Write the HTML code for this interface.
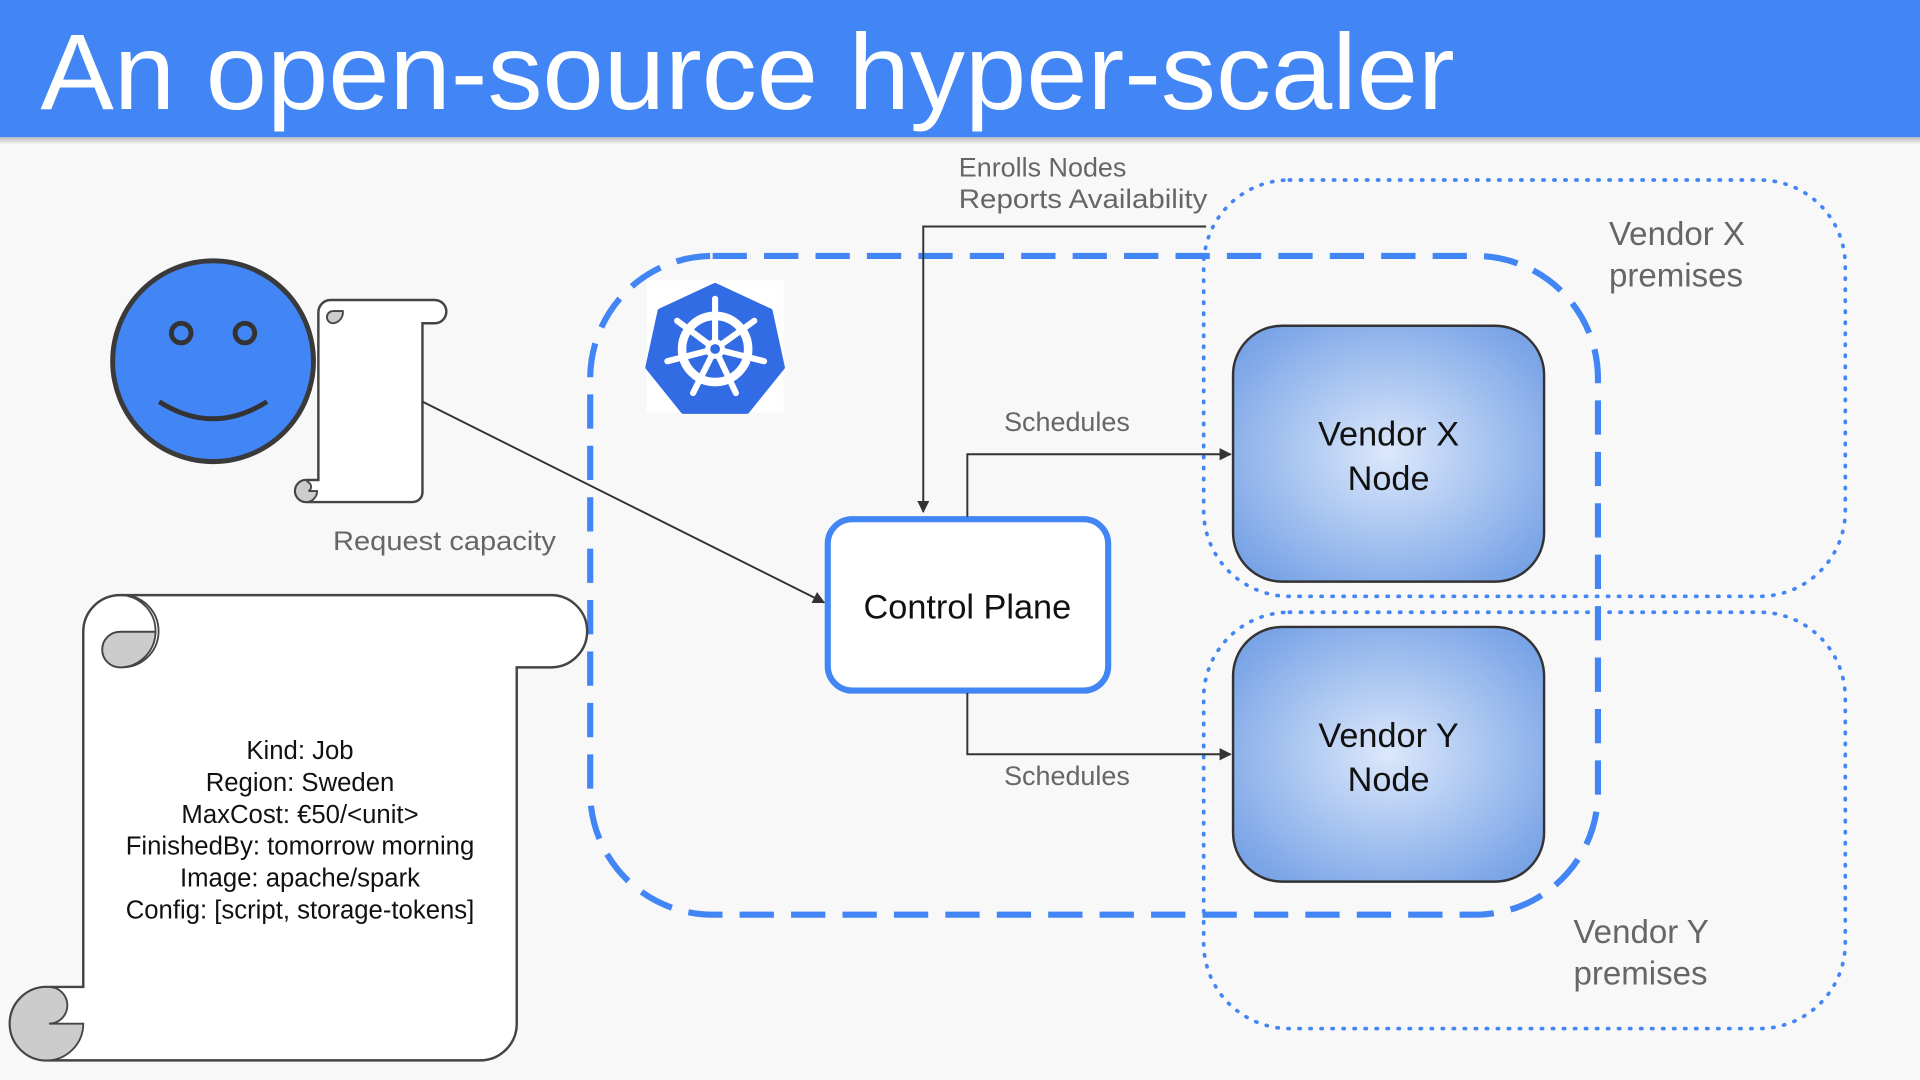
<!DOCTYPE html>
<html><head><meta charset="utf-8"><style>html,body{margin:0;padding:0;width:1920px;height:1080px;overflow:hidden;background:#f8f8f8}svg{display:block}text{font-family:"Liberation Sans",sans-serif}</style></head>
<body>
<svg width="1920" height="1080" viewBox="0 0 1568 882" xmlns="http://www.w3.org/2000/svg">
<defs>
<radialGradient id="g" cx="50%" cy="50%" r="62%"><stop offset="0" stop-color="#dce8fb"/><stop offset="1" stop-color="#78a3e6"/></radialGradient>
<linearGradient id="sh" x1="0" y1="0" x2="0" y2="1"><stop offset="0" stop-color="#000" stop-opacity="0.25"/><stop offset="1" stop-color="#000" stop-opacity="0"/></linearGradient>
<marker id="a" markerWidth="10" markerHeight="10" refX="9" refY="5" orient="auto" markerUnits="userSpaceOnUse"><path d="M0,0 L10,5 L0,10 Z" fill="#333"/></marker>
</defs>
<rect width="1568" height="882" fill="#f8f8f8"/>
<rect y="112" width="1568" height="6" fill="url(#sh)"/>
<rect width="1568" height="112" fill="#4285f4"/>
<text x="33" y="89" font-size="88" fill="#fff" textLength="1155" lengthAdjust="spacingAndGlyphs">An open-source hyper-scaler</text>

<rect x="983" y="147" width="524" height="340" rx="70" fill="none" stroke="#4285f4" stroke-width="3" stroke-dasharray="1 8" stroke-linecap="round"/>
<rect x="983" y="500" width="524" height="340" rx="70" fill="none" stroke="#4285f4" stroke-width="3" stroke-dasharray="1 8" stroke-linecap="round"/>
<rect x="482" y="209" width="823" height="538" rx="100" fill="none" stroke="#4285f4" stroke-width="5" stroke-dasharray="28 14"/>

<rect x="528" y="229" width="112" height="108" fill="#fff"/>
<polygon points="584,233 629,254 639,300 610,336 558,336 529,300 539,254" fill="#326ce5" stroke="#326ce5" stroke-width="4" stroke-linejoin="round"/>
<g stroke="#fff" fill="none" stroke-linecap="round">
<circle cx="584" cy="285" r="27" stroke-width="7"/>
<g stroke-width="5">
<line x1="584" y1="285" x2="584" y2="244"/>
<line x1="584" y1="285" x2="616" y2="262"/>
<line x1="584" y1="285" x2="624" y2="295"/>
<line x1="584" y1="285" x2="601" y2="321"/>
<line x1="584" y1="285" x2="566" y2="321"/>
<line x1="584" y1="285" x2="545" y2="295"/>
<line x1="584" y1="285" x2="553" y2="262"/>
</g></g>
<circle cx="584" cy="285" r="6" fill="#326ce5" stroke="#fff" stroke-width="4"/>

<circle cx="174" cy="295" r="82" fill="#4285f4" stroke="#3a3a3a" stroke-width="4"/>
<circle cx="148" cy="272" r="8" fill="none" stroke="#333" stroke-width="4"/>
<circle cx="200" cy="272" r="8" fill="none" stroke="#333" stroke-width="4"/>
<path d="M130,328 Q174,356 218,328" fill="none" stroke="#333" stroke-width="4"/>

<path d="M270,245 L355,245 A9,9 0 0 1 355,264 L345,264 L345,402 A8,8 0 0 1 337,410 L250,410 A9,9 0 0 1 250,392 L260,392 L260,255 A10,10 0 0 1 270,245 Z" fill="#fff" stroke="#444" stroke-width="2"/>
<path d="M272,254 L280,254 A9,9 0 0 1 272,264 A5,5 0 0 1 272,254 Z" fill="#ccc" stroke="#444" stroke-width="1.5"/>
<path d="M250,392 A9,9 0 1 0 259,401 L252,401 A4,4 0 0 0 252,394 Z" fill="#ccc" stroke="#444" stroke-width="1.5"/>

<path d="M98,486 L450,486 A29.5,29.5 0 0 1 450,545 L422,545 L422,836 A30,30 0 0 1 392,866 L38,866 A30,30 0 0 1 38,806 L68,806 L68,516 A30,30 0 0 1 98,486 Z" fill="#fff" stroke="#444" stroke-width="2"/>
<path d="M98,545 L100,545 A29.5,29.5 0 0 0 100,486 A29.5,29.5 0 0 1 127,516 L98,516 A14.5,14.5 0 0 0 98,545 Z" fill="#fff" stroke="#444" stroke-width="1.5"/>
<path d="M98,516 L127,516 A29.5,29.5 0 0 1 100,545 L98,545 A14.5,14.5 0 0 1 98,516 Z" fill="#ccc" stroke="#444" stroke-width="1.5"/>
<path d="M38,806 A30,30 0 1 0 68,836 L40,836 A15,15 0 0 0 40,806 Z" fill="#ccc" stroke="#444" stroke-width="1.5"/>
<g font-size="21" fill="#111" text-anchor="middle">
<text x="245" y="620">Kind: Job</text>
<text x="245" y="646">Region: Sweden</text>
<text x="245" y="672">MaxCost: €50/&lt;unit&gt;</text>
<text x="245" y="698">FinishedBy: tomorrow morning</text>
<text x="245" y="724">Image: apache/spark</text>
<text x="245" y="750">Config: [script, storage-tokens]</text>
</g>

<rect x="1007" y="266" width="254" height="209" rx="40" fill="url(#g)" stroke="#333" stroke-width="2"/>
<rect x="1007" y="512" width="254" height="208" rx="40" fill="url(#g)" stroke="#333" stroke-width="2"/>
<g font-size="28" fill="#111" text-anchor="middle">
<text x="1134" y="364">Vendor X</text><text x="1134" y="400">Node</text>
<text x="1134" y="610">Vendor Y</text><text x="1134" y="646">Node</text>
</g>

<rect x="676" y="424" width="229" height="140" rx="20" fill="#fff" stroke="#4285f4" stroke-width="5"/>
<text x="790" y="505" font-size="28" fill="#111" text-anchor="middle">Control Plane</text>

<g stroke="#333" stroke-width="1.6" fill="none">
<line x1="345" y1="328" x2="673" y2="492" marker-end="url(#a)"/>
<polyline points="985,185 754,185 754,418" marker-end="url(#a)"/>
<polyline points="790,422 790,371 1005,371" marker-end="url(#a)"/>
<polyline points="790,566 790,616 1005,616" marker-end="url(#a)"/>
</g>

<g font-size="22" fill="#666">
<text x="783" y="144">Enrolls Nodes</text>
<text x="783" y="170" textLength="203" lengthAdjust="spacingAndGlyphs">Reports Availability</text>
<text x="820" y="352">Schedules</text>
<text x="820" y="641">Schedules</text>
<text x="272" y="449" textLength="182" lengthAdjust="spacingAndGlyphs">Request capacity</text>
</g>
<g font-size="27" fill="#666">
<text x="1314" y="200">Vendor X</text><text x="1314" y="234">premises</text>
<text x="1285" y="770">Vendor Y</text><text x="1285" y="804">premises</text>
</g>
</svg>
</body></html>
